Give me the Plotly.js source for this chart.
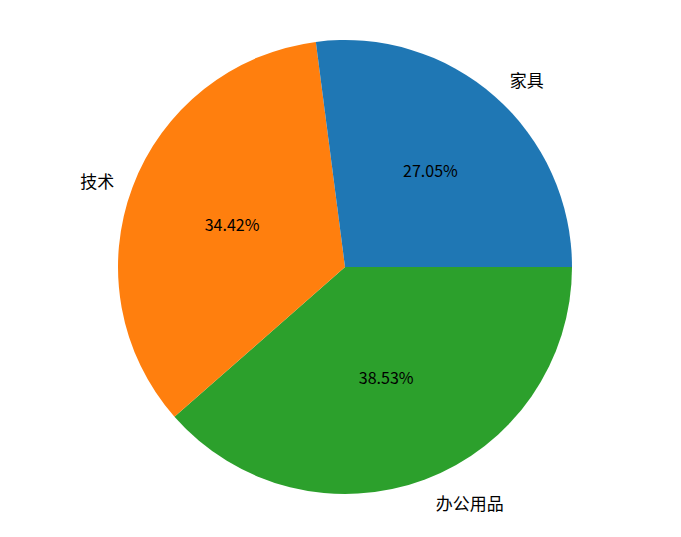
<!DOCTYPE html>
<html>
<head>
<meta charset="utf-8">
<script src="https://cdn.plot.ly/plotly-3.0.1.min.js"></script>
<style>body{margin:0;background:#fff;}</style>
</head>
<body>
<div id="chart" style="width:681px;height:537px;"></div>
<script>
var labels = ['家具', '技术', '办公用品'];
var shares = [27.05, 34.42, 38.53];
var colors = ['#1f77b4', '#ff7f0e', '#2ca02c'];

var font = '"Noto Sans CJK SC", "DejaVu Sans", sans-serif';

// matplotlib goes counterclockwise from 3 o'clock; plotly clockwise
// from 3 o'clock with the order reversed gives the same layout
var rl = labels.slice().reverse();
var rv = shares.slice().reverse();
var rc = colors.slice().reverse();

// plot area is 480px square, the visible pie is 454px
var pad = (1 - 454 / 480) / 2;

var inner = {
  type: 'pie',
  labels: rl,
  values: rv,
  sort: false,
  direction: 'clockwise',
  rotation: 90,
  domain: {x: [pad, 1 - pad], y: [pad, 1 - pad]},
  marker: {colors: rc, line: {width: 0}},
  textposition: 'inside',
  insidetextorientation: 'horizontal',
  texttemplate: '%{percent:.2%}',
  textfont: {family: font, size: 16, color: '#000'},
  hoverinfo: 'label+percent'
};

// larger transparent copy, only to push the category names outwards
var outer = {
  type: 'pie',
  labels: rl,
  values: rv,
  sort: false,
  direction: 'clockwise',
  rotation: 90,
  domain: {x: [0, 1], y: [0, 1]},
  marker: {colors: ['rgba(0,0,0,0)', 'rgba(0,0,0,0)', 'rgba(0,0,0,0)'], line: {width: 0}},
  textposition: 'outside',
  texttemplate: '%{label}',
  textfont: {family: font, size: 17, color: '#000'},
  hoverinfo: 'skip'
};

var layout = {
  width: 681,
  height: 537,
  margin: {l: 105, r: 96, t: 27, b: 30},
  showlegend: false,
  paper_bgcolor: '#fff'
};

Plotly.newPlot('chart', [inner, outer], layout, {displayModeBar: false});
</script>
</body>
</html>
